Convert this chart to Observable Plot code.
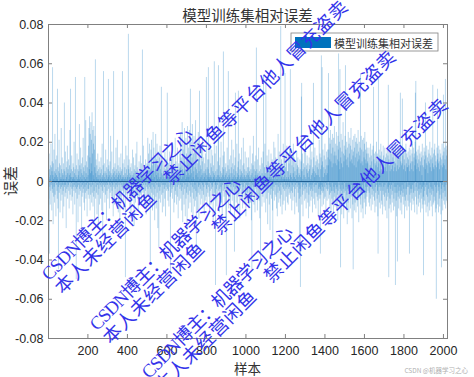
<!DOCTYPE html>
<html><head><meta charset="utf-8">
<script src="https://cdn.jsdelivr.net/npm/d3@7"></script>
<script src="https://cdn.jsdelivr.net/npm/@observablehq/plot@0.6"></script>
<style>body{margin:0;background:#fff}#chart{width:474px;height:377px;overflow:hidden}</style>
</head><body><div id="chart"></div>
<script>
const title = "模型训练集相对误差";
const xLabel = "样本";
const yLabel = "误差";
const legendLabel = "模型训练集相对误差";
const credit = "CSDN @机器学习之心";
const wmLine1 = "CSDN博主：机器学习之心";
const wmLine2 = "本人未经营闲鱼　禁止闲鱼等平台他人冒充盗卖";
const xTicks = [200, 400, 600, 800, 1000, 1200, 1400, 1600, 1800, 2000];
const yTicks = [-0.08, -0.06, -0.04, -0.02, 0, 0.02, 0.04, 0.06, 0.08];

// relative error per sample, in thousandths (0.001), samples 1..2020 in ten runs
const seg0 = [4,-9,2,14,-37,6,-3,1,-12,8,3,-5,19,-2,7,-1,-15,5,10,-4,
58,-6,3,-22,9,1,-8,16,-3,5,-11,2,24,-7,4,-1,11,-18,6,-2,
3,13,-5,1,-9,47,2,-14,7,-3,-45,5,-1,21,-6,9,-2,4,-16,1,
8,-4,2,-10,27,-3,6,1,-7,12,-2,4,-19,3,-5,9,1,-13,6,-2,
40,-3,5,-8,1,15,-2,-6,3,-24,7,2,-4,10,-1,18,-9,4,-3,6,
-2,11,-5,1,-14,3,8,-1,26,-7,4,47,-3,2,-10,6,-1,13,-4,2,
-8,5,1,-17,9,-3,2,7,-5,20,-2,4,-12,1,6,-3,53,-6,3,-1,
-50,8,-4,2,14,-9,1,-3,6,-21,3,11,-2,5,-7,1,29,-4,8,-13,
2,-5,17,-1,6,-3,9,-26,4,1,-8,12,-2,3,-6,22,-4,7,-1,-11,
5,2,-15,53,-3,8,-6,1,31,-9,4,-2,10,-5,2,-18,7,-1,13,-4,
3,-7];
const seg1 = [18,-4,27,-9,6,33,-2,12,-15,24,4,-7,30,-3,9,21,-11,5,35,-6,
14,-2,26,-13,3,19,-8,28,1,-5,16,-20,7,23,-1,62,-9,4,-3,11,
-6,2,8,-17,1,5,-2,14,-7,3,-24,6,1,-4,10,-1,-12,3,7,-2,
4,-9,1,12,-3,6,-1,-15,2,19,-5,3,-28,1,8,-2,56,-6,4,-1,
9,-3,2,-11,5,1,-7,16,-2,4,-1,-20,7,3,-5,11,-2,1,-9,6,
2,52,-4,8,-1,3,-14,5,-2,10,-6,1,23,-3,4,-8,2,-1,15,-5,
3,-10,6,-2,1,-18,4,56,-3,7,-1,2,-12,5,9,-4,1,-7,3,17,
-2,6,-13,1,4,-3,21,-6,2,-1,8,-16,3,5,-2,12,-9,1,4,-25,
7,-1,3,-8,14,-2,5,1,-11,6,-3,2,56,-5,1,9,-4,3,-15,2,
-6,11,1,-3,7,-2,4,-49,2,18,-7,1,-4,6,-1,13,-10,3,2,-5,
8,-3];
const seg2 = [75,-3,6,-1,11,-8,2,4,-14,1,7,-2,3,-19,9,-4,1,5,-10,2,
-1,16,-5,3,1,-7,12,-2,4,-23,6,1,-3,8,-1,2,-11,5,14,-4,
1,-6,3,20,-2,7,-9,1,-3,5,-15,2,4,-1,10,-5,1,-8,3,6,
-2,13,-7,1,4,-3,9,-12,2,5,-1,67,-4,3,-6,1,18,-2,5,-9,
2,-1,7,-13,3,1,-5,11,-2,4,-17,6,1,-3,9,-1,2,-7,22,-4,
3,-8,14,-2,5,1,-11,19,-3,7,2,-42,6,-4,16,-9,3,21,-6,12,
-2,8,-15,4,1,25,-7,10,-3,17,-12,5,2,-20,13,-4,9,-1,24,-8,
6,-14,3,11,-2,19,-6,1,8,-24,4,15,-3,7,-34,2,-9,12,1,-5,
18,-3,6,-11,2,9,-1,48,-7,4,-2,13,-16,3,1,-6,10,-2,5,-13,
2,7,-4,1,-9,15,-2,3,-18,6,1,-3,11,-5,2,-1,8,45,-4,2,
-10,5];
const seg3 = [-5,9,2,-13,6,-1,4,15,-3,1,-8,-47,3,7,-2,11,-6,1,19,-4,
2,-9,5,-1,13,-3,8,1,-16,4,-2,7,-11,3,1,22,-5,2,-7,10,
-1,4,-12,6,2,-3,17,-8,1,5,-19,3,-2,9,-1,6,-10,2,14,-4,
7,-2,24,-9,3,12,-5,1,-15,8,30,-3,6,-21,2,16,-7,4,-1,19,
-12,5,27,-4,10,-2,-18,6,1,22,-9,3,14,-6,2,-25,8,28,-3,11,
-7,4,17,-14,2,9,-1,26,-5,3,-11,15,47,-8,6,-2,20,-16,4,1,
12,-6,29,-3,8,-20,2,14,-9,5,23,-4,1,-13,18,-2,7,-10,31,-5,
3,16,-37,6,-8,21,-1,4,-15,9,2,-6,25,-3,11,-19,5,-2,46,-7,
1,13,-4,8,-12,2,6,-1,18,-9,3,-5,10,-2,22,-14,4,1,-7,12,
-3,5,-17,2,9,-1,4,-10,14,-2,6,1,-8,53,-4,3,-13,7,-2,11,
-6,2];
const seg4 = [6,58,-3,11,-8,1,4,-15,2,19,-5,3,-1,9,-12,2,7,-4,16,-2,
1,-7,13,-3,5,-20,2,8,-1,4,-10,61,3,-6,1,14,-2,-53,5,-9,
2,18,-4,1,-13,6,3,-2,10,-7,1,24,59,-5,3,-1,-16,8,2,-4,
12,-9,1,5,-3,20,-6,2,-11,4,1,-18,7,-2,3,13,-5,66,-1,6,
-8,2,15,-4,1,-12,7,3,-2,9,-21,4,-48,1,5,-3,17,-7,2,-1,
8,-5,56,1,-14,3,6,-2,11,-9,2,4,-1,-17,13,-3,1,7,-6,21,
-2,4,-10,1,9,-5,2,16,-3,6,-13,1,3,-36,8,-1,12,-4,45,-7,
2,5,-11,1,-3,19,-6,4,2,-15,7,-1,10,46,-8,3,-2,14,-5,1,
-19,6,2,-4,11,-1,3,-9,5,17,-2,1,-7,4,-14,8,2,-3,22,-6,
1,9,-12,3,-1,6,-4,15,2,-8,1,-18,5,3,-2,12,-6,1,-10,7,
4,-3];
const seg5 = [-6,3,12,-2,7,-14,1,5,-9,2,18,-4,1,-11,6,3,-1,-20,9,-45,
4,-2,14,-7,1,8,-3,23,-5,2,-12,6,1,-3,10,-16,3,5,-1,13,
-4,2,68,-9,6,-1,3,-15,11,-2,4,1,-7,17,-3,2,-10,5,1,-19,
8,-1,3,-41,6,2,-5,12,-2,1,-13,4,9,-3,1,-8,15,2,54,-6,
3,-11,1,7,-2,19,-5,4,-1,-16,52,2,-4,8,-9,1,13,-3,5,-22,
2,10,-6,1,-3,16,4,-12,2,7,-1,-25,9,3,-7,1,14,-4,2,-9,
6,-2,11,1,-15,-34,3,8,-5,2,20,-3,1,-10,6,-1,17,-7,3,-2,
12,-8,4,1,-14,5,-2,9,-18,3,1,-6,24,-3,7,-11,2,-1,15,-5,
3,-9,1,6,-13,79,-2,4,-7,11,2,-1,-17,5,8,-3,1,-12,19,-4,
2,6,-10,1,13,-5,3,55,-2,-15,7,1,-4,10,-8,2,18,-3,1,-11,
5,-2];
const seg6 = [5,-12,2,14,-4,9,-7,1,-3,16,-6,3,57,-9,4,-1,11,-5,2,-15,
8,-2,13,-6,1,-10,4,19,-3,7,-1,12,-8,2,-17,5,10,-4,1,-2,
9,-11,3,-1,15,-13,6,-3,8,-1,12,-6,2,-16,7,-2,4,-9,-37,3,
11,-4,6,-54,2,-8,10,-1,43,50,-12,5,-3,14,-7,1,-18,6,-2,9,
-5,3,-1,16,-10,7,-4,2,-2,20,-9,1,-14,8,-3,6,-6,13,-1,4,
-11,9,-1,5,-19,2,-7,12,-3,6,-13,8,-2,18,-5,1,-10,11,-4,3,
-8,15,-2,4,-16,7,-5,6,-1,50,-9,12,-3,5,-12,2,17,-6,8,-2,
4,-14,10,-6,3,-2,13,-8,7,-1,11,-10,3,-18,6,-4,9,-7,21,-3,
2,-9,14,-4,-37,6,-7,12,-2,64,-5,8,-13,58,-3,10,-6,16,-5,2,
-12,7,-1,13,-9,4,-3,19,-8,6,-1,11,-17,3,-4,15,-2,8,-10,4,
-5,16];
const seg7 = [12,-4,8,55,-9,16,-2,22,-7,11,-14,19,-3,26,-6,10,-18,14,-5,21,
-9,7,-1,24,-12,17,-5,9,-16,22,-3,13,-8,28,-6,15,-13,9,-2,19,
-10,13,-4,25,-15,8,-3,18,-7,11,-20,23,-5,16,65,-9,10,-2,20,-13,
6,57,-4,17,-44,12,-8,24,-5,9,-17,15,-2,21,-9,7,-12,30,-4,14,
-19,10,-6,18,-1,13,-12,23,-5,59,-10,16,-3,11,-15,20,-7,8,-22,17,
-4,12,-11,25,-5,7,-16,19,-2,14,-9,22,-6,10,-14,18,-4,27,-8,11,
-2,16,-19,9,-6,21,-12,13,-45,15,-3,23,-7,8,-15,17,-5,24,-11,12,
-1,20,-16,7,-6,22,-4,14,-10,19,-13,10,-5,26,-8,15,-21,11,-2,20,
-5,13,-9,17,-3,55,-12,9,-16,23,-6,16,-7,10,-2,21,-14,8,-19,15,
-4,22,-6,12,-11,19,-1,25,-9,11,-17,16,-3,9,-13,20,-6,14,-8,17,
-3,10];
const seg8 = [9,-5,14,-2,6,-11,17,-6,3,-13,12,-1,8,-9,19,-3,5,-15,13,-2,
10,-7,16,-4,6,-12,3,18,-8,48,-5,11,-1,14,-10,4,-16,9,-3,15,
-6,8,-13,4,20,-2,10,-9,14,-5,7,-18,-37,12,52,-7,9,-3,16,-11,
5,-2,13,-14,9,-5,19,-3,6,-10,15,-12,4,-1,11,-17,8,-5,18,-7,
13,-3,10,-13,5,-8,17,-2,7,-15,12,-6,9,-1,14,-10,5,-19,16,-4,
9,-8,13,-3,49,-6,-49,11,-14,8,-2,18,-9,5,-12,15,-4,10,-16,6,
-2,14,-7,19,-11,8,-5,12,-1,17,-15,5,-9,16,-3,10,-13,7,-6,20,
-53,9,-3,15,-10,5,-18,13,-6,8,-41,16,-2,11,-8,6,-14,18,-5,12,
-9,7,-3,16,-15,45,-7,10,-11,14,-5,8,-17,9,-2,42,-8,13,-6,17,
-12,6,-4,15,-8,11,-19,8,-1,16,-10,5,-13,19,-4,9,-7,14,-15,7,
-3,12];
const seg9 = [7,-10,15,-3,11,-13,8,-2,17,-37,5,-7,13,-11,9,-4,16,-6,10,-15,
6,-4,14,-9,19,-2,10,-12,5,-6,17,-10,12,-1,14,-16,8,-5,20,45,
-8,51,11,-3,15,-12,6,-17,13,-5,9,-1,16,-9,7,-13,11,-4,18,-7,
5,-11,14,-2,10,-16,8,-6,15,-4,12,-9,3,-14,19,-3,8,-12,13,-8,
-48,7,-2,17,-10,11,-5,15,-12,6,40,-3,13,-16,9,-7,18,-2,8,-13,
12,-8,4,-18,16,-4,10,-11,14,-1,9,-15,20,-6,7,-10,13,-3,11,-13,
5,-7,17,-4,12,-18,9,49,-5,-12,7,14,-11,6,-8,16,-2,19,-10,8,
-16,13,-3,10,-14,-60,7,-6,17,-2,11,47,-12,14,-5,9,-16,18,-3,10,
-9,6,-13,16,-7,12,-1,14,-17,8,-4,-44,11,-9,19,-2,7,-15,13,-6,
9,44,-10,15,-3,8,-12,17,-5,11,-8,52,-14,6,-2,18,-10,13,-1,16,
-11,5];

const errThousandths = [].concat(seg0, seg1, seg2, seg3, seg4, seg5, seg6, seg7, seg8, seg9);
const data = errThousandths.map((v, i) => ({sample: i + 1, err: v / 1000}));

const W = 474, H = 377, mL = 48, mR = 27, mT = 24, mB = 39;
const iw = W - mL - mR, ih = H - mT - mB;
const axisColor = "#808080";
const barColor = "#0072BD";
const cjk = "'Noto Sans CJK SC', sans-serif";

const svg = Plot.plot({
  width: W, height: H,
  marginLeft: mL, marginRight: mR, marginTop: mT, marginBottom: mB,
  style: {fontFamily: "'Liberation Sans', Arial, sans-serif", fontSize: "12.5px", color: "#262626", background: "#fff"},
  x: {domain: [0.5, errThousandths.length + 0.5], label: null},
  y: {domain: [-0.08, 0.08], label: null},
  marks: [
    Plot.ruleX(data, {x: "sample", y1: 0, y2: "err", stroke: barColor, strokeWidth: 0.28}),
    Plot.ruleY([0], {stroke: "#1f5f93", strokeWidth: 1}),
    Plot.frame({stroke: axisColor, strokeWidth: 1}),
    Plot.tickX(xTicks, {x: d => d, insetTop: ih - 4, stroke: axisColor}),
    Plot.tickX(xTicks, {x: d => d, insetBottom: ih - 4, stroke: axisColor}),
    Plot.tickY(yTicks, {y: d => d, insetRight: iw - 4, stroke: axisColor}),
    Plot.tickY(yTicks, {y: d => d, insetLeft: iw - 4, stroke: axisColor}),
    Plot.axisX({ticks: xTicks, tickSize: 0, tickPadding: 7.5, tickFormat: d => String(d), label: null}),
    Plot.axisY({ticks: yTicks, tickSize: 0, tickPadding: 5, tickFormat: d => d === 0 ? "0" : d.toFixed(2), label: null})
  ]
});

const s = d3.select(svg);
// title & axis labels
s.append("text").attr("x", mL + iw / 2).attr("y", 14).attr("text-anchor", "middle").attr("dominant-baseline", "central")
  .style("font-family", cjk).style("font-size", "14.5px").attr("fill", "#333").text(title);
s.append("text").attr("x", mL + iw / 2).attr("y", 368).attr("text-anchor", "middle").attr("dominant-baseline", "central")
  .style("font-family", cjk).style("font-size", "13.5px").attr("fill", "#333").text(xLabel);
s.append("text").attr("transform", "translate(9,181) rotate(-90)").attr("text-anchor", "middle").attr("dominant-baseline", "central")
  .style("font-family", cjk).style("font-size", "15px").attr("fill", "#333").text(yLabel);
// legend
const lg = s.append("g");
lg.append("rect").attr("x", 291).attr("y", 33).attr("width", 147).attr("height", 18).attr("fill", "#fff").attr("stroke", axisColor).attr("stroke-width", 0.8);
lg.append("rect").attr("x", 295).attr("y", 37).attr("width", 36).attr("height", 11).attr("fill", barColor);
lg.append("text").attr("x", 334).attr("y", 42.5).attr("text-anchor", "start").attr("dominant-baseline", "central")
  .style("font-family", cjk).style("font-size", "11px").attr("fill", "#333").text(legendLabel);
// credit
s.append("text").attr("x", 468).attr("y", 370).attr("text-anchor", "end").attr("dominant-baseline", "central")
  .style("font-family", cjk).style("font-size", "6.5px").attr("fill", "#b0b0b0").text(credit);
// watermark
const blocks = [[44.8, 277.2], [92.8, 327.2], [144.8, 375.2]];
for (const [bx, by] of blocks) {
  const g = s.append("g").attr("transform", `translate(${bx},${by}) rotate(-45)`).attr("text-anchor", "start")
    .style("font-family", "'Liberation Serif', 'Noto Sans CJK SC', serif").style("font-size", "18.5px").attr("fill", "#3434ea");
  g.append("text").attr("x", 0).attr("y", 0).attr("text-anchor", "start").attr("dominant-baseline", "central").attr("textLength", 206).attr("lengthAdjust", "spacing").text(wmLine1);
  g.append("text").attr("x", 0).attr("y", 19).attr("text-anchor", "start").attr("dominant-baseline", "central").attr("textLength", 405).attr("lengthAdjust", "spacing").text(wmLine2);
}
document.getElementById("chart").appendChild(svg);
</script>
</body></html>
